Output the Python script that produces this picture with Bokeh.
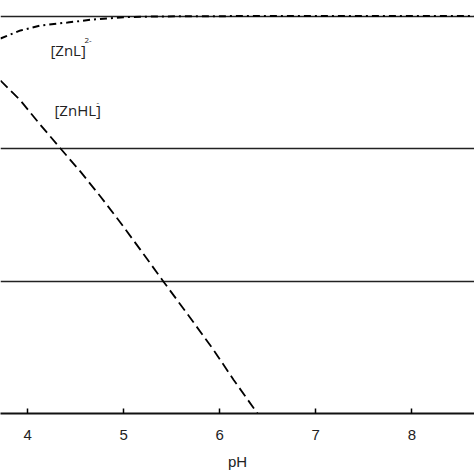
from bokeh.plotting import figure
from bokeh.models import Range1d, FixedTicker, Grid, Label
from bokeh.embed import file_html
from bokeh.resources import INLINE

# pH ticks
ph_ticks = [4, 5, 6, 7, 8]
# level lines (log scale decades)
level_lines = [0, -1, -2]

# [ZnL]2- (dash-dot)
znl_ph = [3.716, 3.924, 4.132, 4.414, 4.685, 4.997, 5.3, 5.6, 6.0, 7.0, 8.0, 8.7]
znl_y = [-0.17, -0.109, -0.072, -0.049, -0.026, -0.009, -0.004, -0.002, -0.001, 0.0, 0.0, 0.0]

# [ZnHL]- (dashed)
znhl_ph = [3.716, 3.924, 4.132, 4.341, 4.549, 4.757, 4.966, 5.174, 5.414, 5.664, 5.935, 6.143, 6.393]
znhl_y = [-0.487, -0.638, -0.822, -1.0, -1.175, -1.362, -1.560, -1.765, -2.005, -2.250, -2.520, -2.745, -3.0]

p = figure(width=474, height=474,
           x_range=Range1d(3.716, 8.653), y_range=Range1d(-3.0, 0.117),
           output_backend="svg", toolbar_location=None,
           y_axis_location=None,
           min_border_left=0, min_border_right=0, min_border_top=0, min_border_bottom=61)
p.outline_line_color = None
p.background_fill_color = "white"
p.border_fill_color = "white"
for gr in p.grid:
    gr.visible = False

g = Grid(dimension=1, ticker=FixedTicker(ticks=level_lines),
         grid_line_color="#222222", grid_line_width=1.3)
p.add_layout(g)

ax = p.xaxis[0]
ax.ticker = FixedTicker(ticks=ph_ticks)
ax.axis_label = "pH"
ax.axis_line_width = 2
ax.axis_line_color = "#111111"
ax.major_tick_in = 5
ax.major_tick_out = 0
ax.major_tick_line_width = 1.5
ax.minor_tick_line_color = None
ax.major_label_text_font = "Liberation Sans"
ax.major_label_text_font_size = "15px"
ax.major_label_text_color = "#222222"
ax.major_label_standoff = 16
ax.axis_label_text_font = "Liberation Sans"
ax.axis_label_text_font_size = "15px"
ax.axis_label_text_font_style = "normal"
ax.axis_label_text_color = "#222222"
ax.axis_label_standoff = 10

p.line(znl_ph, znl_y, line_color="black", line_width=2, line_dash="7 4 2 4")
p.line(znhl_ph, znhl_y, line_color="black", line_width=1.8, line_dash="10 5")

font = "Open Sans"
p.add_layout(Label(x=4.236, y=-0.260, text="[ZnL]", text_font=font,
                   text_font_size="15px", text_color="#222222", text_baseline="alphabetic"))
p.add_layout(Label(x=4.591, y=-0.185, text="2-", text_font=font,
                   text_font_size="8px", text_color="#222222", text_baseline="alphabetic"))
p.add_layout(Label(x=4.278, y=-0.713, text="[ZnHL]", text_font=font,
                   text_font_size="15px", text_color="#222222", text_baseline="alphabetic"))
p.add_layout(Label(x=4.716, y=-0.653, text="-", text_font=font,
                   text_font_size="8px", text_color="#222222", text_baseline="alphabetic"))

open("out.html", "w").write(file_html(p, INLINE))
